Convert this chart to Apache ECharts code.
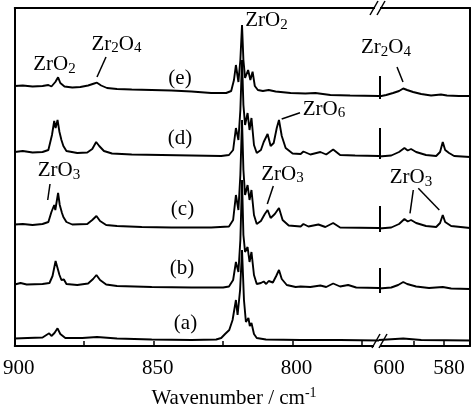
<!DOCTYPE html>
<html><head><meta charset="utf-8">
<script src="https://cdn.jsdelivr.net/npm/echarts@6/dist/echarts.min.js"></script>
<style>html,body{margin:0;padding:0;background:#fff}#c{width:474px;height:414px}</style>
</head><body><div id="c"></div>
<script>
// ---- axis / tick data ----
const rangeLow = [768.9, 900];      // left (broken) segment, wavenumber
const rangeHigh = [571.3, 601.7];   // right segment, wavenumber
const ticksLow = [900, 875, 850, 825, 800, 775];
const labelsLow = [900, 850, 800];
const ticksHigh = [590, 580];
const labelsHigh = [600, 580];
const intensityRange = [0, 338];    // offset intensity (a.u.)
const breakX = 601.4;

// ---- spectra: [wavenumber, offset intensity] ----
const e_low = [[900,260],[897.1,260.5],[893.6,259.5],[890,260],[887.9,261],[886.8,259.5],[885.4,264],[884.4,268.7],[883.6,263],[882.1,259.5],[879.3,258.5],[876.4,259],[873.6,260.5],[871.4,262.5],[870.4,263.3],[868.9,260.5],[866.8,258],[863.2,257],[857.9,256.5],[850.7,256],[843.6,255.5],[836.4,254.5],[829.3,253],[823.9,253],[822.1,255],[821.1,266],[820.4,281],[819.5,264],[818.8,286],[818.2,321],[817.7,286],[817.1,268],[816.0,276],[815.2,266],[814.4,274.3],[813.6,260],[812.5,256],[810.7,255],[808.6,256],[806.1,254.5],[800.7,253],[795.4,252.5],[791.8,253],[786.4,251],[779.3,250.5],[768.9,250]];
const e_high = [[601.7,249.5],[599.3,251],[597,253],[595,255],[593.6,257.5],[592.3,256],[590.3,254],[587.6,252],[584.3,250.5],[581,251.5],[579,250.5],[575,250],[571.3,250]];

const d_low = [[900,194],[897.1,195],[893.6,193.5],[890,194],[887.9,196],[886.6,211],[885.8,225],[885.3,218],[884.6,226],[883.9,214],[883.2,206],[882.5,200],[881.4,195],[877.5,193],[873.9,193.5],[872.1,197],[870.7,204],[869.6,200],[867.9,195],[865,192.5],[857.9,191.5],[847.1,191],[836.4,190.5],[825.7,190],[822.9,191],[821.4,196],[820.4,218],[819.5,206],[818.8,236],[818.2,286],[817.7,241],[817.1,221],[816.2,233],[815.5,216],[814.8,228],[813.9,201],[812.9,193],[811.4,196],[810.4,204],[809.0,212],[807.9,200],[806.8,203],[805.7,218],[804.9,226],[803.9,210],[802.5,198],[800,192.5],[797.1,192],[796.1,194.5],[793.6,191.5],[790,194],[787.9,191.5],[785.4,196.5],[782.9,191],[777.5,190.5],[768.9,190]];
const d_high = [[601.7,189.5],[597.6,190.5],[595,194],[593.2,198],[592.1,195.5],[591,197],[589.3,194],[586,191],[582.6,190],[581.3,194],[580.4,204],[579.6,196],[578.3,193],[576.6,190],[571.3,189]];

const c_low = [[900,121.5],[897.1,122],[893.6,121],[890,122],[887.9,124],[886.8,134],[885.8,141],[885.4,136],[884.4,153],[883.8,141],[883,133],[882.5,129],[881.4,124],[879.3,121.5],[873.9,122],[872.1,126],[870.6,130],[869.3,125],[867.1,121],[863.2,120],[854.3,119],[843.6,118.5],[829.3,118.5],[822.9,119.5],[821.4,126],[820.4,151],[819.5,136],[818.8,171],[818.2,226],[817.7,176],[817.1,151],[816.2,161],[815.5,146],[814.8,156],[813.9,131],[812.9,122],[811.4,125],[810,132],[809,136],[807.9,128],[806.4,132],[804.9,138],[803.6,126],[801.4,120.5],[797.1,119.5],[796.1,122],[794.3,119.5],[790.7,121.5],[788.2,119],[785.4,123],[782.9,118.5],[768.9,118]];
const c_high = [[601.7,117.5],[597.6,118.5],[595,122],[593.2,127],[592.1,124.5],[591,126],[589.3,123],[586,120],[582.6,119],[581.3,123],[580.4,131],[579.6,124],[577.6,120],[571.3,118]];

const b_low = [[900,61.5],[897.9,63],[895.7,61.5],[890,62],[887.5,63],[886.4,70],[885.3,85],[884.6,78],[883.9,71],[883.2,66],[882.3,66.5],[881.4,62],[877.5,61],[873.6,62.5],[871.8,67],[870.6,71],[869.3,66],[867.1,61.5],[863.2,60],[850.7,59],[836.4,58.5],[825,58.5],[822.9,59.5],[821.4,66],[820.4,84],[819.5,74],[818.8,106],[818.2,166],[817.7,111],[817.1,94],[816.2,99],[815.5,84],[814.8,94],[813.9,71],[812.9,62],[811.4,63],[810.4,64.5],[809.5,62],[808.6,65],[807.1,63.5],[805.9,70],[804.9,76],[803.9,67],[802.1,61],[798.9,59],[797.1,59.5],[793.6,59],[790,60.5],[787.9,59],[785.4,62.5],[782.9,59.5],[780,61],[777.1,58.5],[768.9,58]];
const b_high = [[601.7,57.5],[597.6,58.5],[595.3,61],[593.6,64],[592.3,62],[589.3,59.5],[585,58],[580.4,59],[577.6,57.5],[571.3,57]];

const a_low = [[900,7.5],[895.4,8],[890,8.5],[888.6,11],[887.6,12.7],[886.8,10],[885.7,13],[884.6,17.7],[883.6,12],[881.8,8],[875.7,8],[870.4,9],[863.2,7.5],[850.7,6.5],[836.4,6],[827.5,6.5],[825.7,8],[824.3,12],[822.8,16],[821.6,26],[820.4,46],[819.8,31],[818.9,56],[818.2,96],[817.5,46],[816.8,24],[815.9,28],[815.4,20],[814.8,23],[813.9,12],[812.9,8],[809.6,6.5],[797.1,6],[782.9,6],[768.9,5.5]];
const a_high = [[601.7,6],[593.6,7.5],[587.6,6],[571.3,5.5]];

// break bars drawn in each trace at the axis break [low, high]
const breakBars = { a: null, b: [53, 78], c: [114, 140], d: [187, 218], e: [247, 270] };

const lowData = { a: a_low, b: b_low, c: c_low, d: d_low, e: e_low };
const highData = { a: a_high, b: b_high, c: c_high, d: d_high, e: e_high };

const FONT = 'Liberation Serif, Times New Roman, serif';
const lineStyle = { color: '#000', width: 1.9 };

const series = [];
['a','b','c','d','e'].forEach(k => {
  series.push({ type: 'line', xAxisIndex: 0, yAxisIndex: 0, data: lowData[k], showSymbol: false,
    lineStyle, itemStyle: { color: '#000' }, silent: true, animation: false });
  const s = { type: 'line', xAxisIndex: 2, yAxisIndex: 1, data: highData[k], showSymbol: false,
    lineStyle, itemStyle: { color: '#000' }, silent: true, animation: false };
  if (breakBars[k]) {
    s.markLine = { silent: true, symbol: 'none', label: { show: false },
      lineStyle: { color: '#000', width: 2, type: 'solid' },
      data: [[{ coord: [breakX, breakBars[k][0]] }, { coord: [breakX, breakBars[k][1]] }]] };
  }
  series.push(s);
});

const axLine = { show: true, lineStyle: { color: '#000', width: 2 } };
const chart = echarts.init(document.getElementById('c'), null, { renderer: 'canvas' });

const rich = {
  n: { fontFamily: FONT, fontSize: 21, lineHeight: 24, color: '#000' },
  s: { fontFamily: FONT, fontSize: 15, lineHeight: 17, verticalAlign: 'bottom', color: '#000' },
  p: { fontFamily: FONT, fontSize: 14, lineHeight: 10, verticalAlign: 'top', color: '#000' }
};
function label(text, x, y) {
  return { type: 'text', x, y, z: 100, silent: true,
    style: { text, rich, fill: '#000', align: 'center', verticalAlign: 'middle', font: '21px ' + FONT } };
}
function seg(x1, y1, x2, y2, w) {
  return { type: 'line', z: 100, silent: true, shape: { x1, y1, x2, y2 }, style: { stroke: '#000', lineWidth: w || 1.5 } };
}
function whiteRect(x, y, w, h) {
  return { type: 'rect', z: 99, silent: true, shape: { x, y, width: w, height: h }, style: { fill: '#fff' } };
}

chart.setOption({
  backgroundColor: '#fff',
  animation: false,
  grid: [
    { left: 12, top: 8, width: 367, height: 338 },
    { left: 379, top: 8, width: 91, height: 338 }
  ],
  xAxis: [
    { type: 'value', gridIndex: 0, min: rangeLow[0], max: rangeLow[1], inverse: true, position: 'bottom',
      axisLine: axLine, splitLine: { show: false },
      axisTick: { show: true, inside: true, length: 5, customValues: ticksLow, lineStyle: { color: '#000', width: 1.5 } },
      axisLabel: { customValues: labelsLow, color: '#000', fontFamily: FONT, fontSize: 21, margin: 12, padding: [0, 0, 0, 8] } },
    { type: 'value', gridIndex: 0, min: rangeLow[0], max: rangeLow[1], inverse: true, position: 'top',
      axisLine: axLine, splitLine: { show: false }, axisTick: { show: false }, axisLabel: { show: false } },
    { type: 'value', gridIndex: 1, min: rangeHigh[0], max: rangeHigh[1], inverse: true, position: 'bottom',
      axisLine: axLine, splitLine: { show: false },
      axisTick: { show: true, inside: true, length: 5, customValues: ticksHigh, lineStyle: { color: '#000', width: 1.5 } },
      axisLabel: { customValues: labelsHigh, color: '#000', fontFamily: FONT, fontSize: 21, margin: 12, padding: [0, 0, 0, 10] } },
    { type: 'value', gridIndex: 1, min: rangeHigh[0], max: rangeHigh[1], inverse: true, position: 'top',
      axisLine: axLine, splitLine: { show: false }, axisTick: { show: false }, axisLabel: { show: false } }
  ],
  yAxis: [
    { type: 'value', gridIndex: 0, min: intensityRange[0], max: intensityRange[1], position: 'left',
      axisLine: axLine, axisTick: { show: false }, axisLabel: { show: false }, splitLine: { show: false } },
    { type: 'value', gridIndex: 1, min: intensityRange[0], max: intensityRange[1], position: 'right',
      axisLine: axLine, axisTick: { show: false }, axisLabel: { show: false }, splitLine: { show: false } }
  ],
  series,
  graphic: [
    // annotations
    label('{n|ZrO}{s|2}', 54.5, 64.5),
    label('{n|Zr}{s|2}{n|O}{s|4}', 116.5, 44),
    seg(106, 57, 97, 77),
    label('{n|(e)}', 180, 78),
    label('{n|ZrO}{s|2}', 266.5, 20.5),
    label('{n|Zr}{s|2}{n|O}{s|4}', 386, 47.5),
    seg(397, 67, 403, 82),
    label('{n|(d)}', 180, 138.5),
    label('{n|ZrO}{s|6}', 324, 109),
    seg(300, 112.7, 281.7, 119),
    label('{n|ZrO}{s|3}', 59, 170.5),
    seg(50, 184, 47.7, 200),
    label('{n|(c)}', 182.5, 209.5),
    label('{n|ZrO}{s|3}', 282.5, 174),
    seg(273.3, 186, 267.3, 204),
    label('{n|ZrO}{s|3}', 411, 177.5),
    seg(413.3, 190, 410, 213.3),
    seg(418.3, 188.3, 439.3, 210),
    label('{n|(b)}', 182, 268.5),
    label('{n|(a)}', 185.5, 323.5),
    // axis title
    label('{n|Wavenumber / cm}{p|-1}', 234, 398),
    // axis break marks
    whiteRect(375, 6.5, 5, 3),
    seg(370, 15, 378, 1, 1.5),
    seg(377, 15, 385, 1, 1.5),
    whiteRect(374, 344.5, 6, 3),
    seg(372, 348, 380, 334, 1.5),
    seg(379, 348, 387, 334, 1.5)
  ]
});
</script>
</body></html>
